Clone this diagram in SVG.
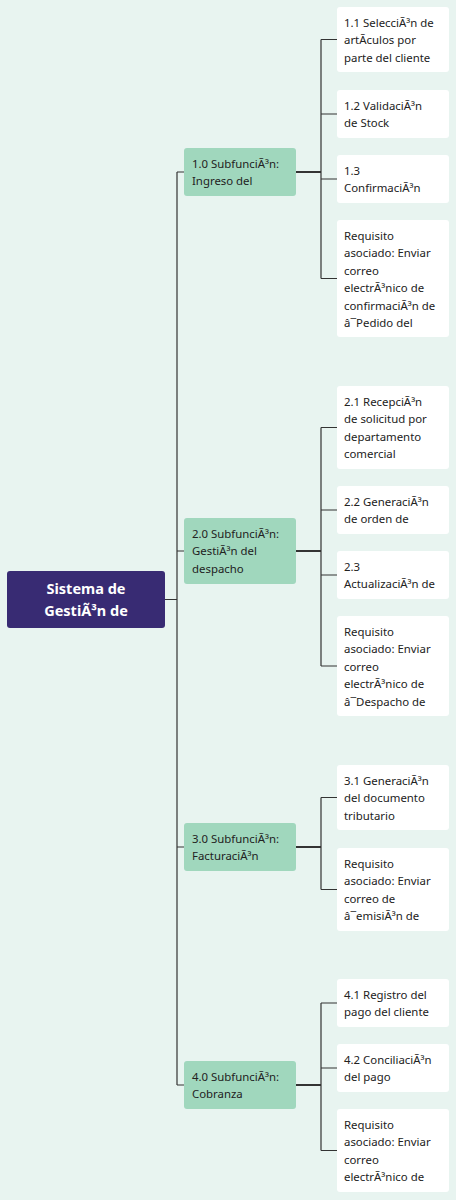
<svg xmlns="http://www.w3.org/2000/svg" width="456" height="1200" viewBox="0 0 456 1200">
<style>
.bg{fill:#e8f4f0}
.root rect{fill:#382b73}
.root text{fill:#ffffff;font-family:"Noto Sans","Open Sans",sans-serif;font-size:14.5px;font-weight:bold;text-anchor:middle}
.sub rect{fill:#a0d7bd}
.leaf rect{fill:#ffffff}
.sub text,.leaf text{fill:#222222;font-family:"Noto Sans","Open Sans",sans-serif;font-size:11.4px}
.conn path{fill:none;stroke:#333333;stroke-width:1.2}
.conn .thick{stroke-width:2}
</style>
<rect class="bg" x="0" y="0" width="456" height="1200"/>
<g class="conn">
<path d="M165,599.5H177M177,172V1085M177,172H184M177,551H184M177,847H184M177,1085H184"/>
<path class="thick" d="M296,172H321M296,551H321M296,847H321M296,1085H321"/>
<path d="M321,39.5V278.5M321,39.5H337M321,114H337M321,179H337M321,278.5H337"/>
<path d="M321,427.5V666M321,427.5H337M321,510H337M321,575H337M321,666H337"/>
<path d="M321,797.5V889.5M321,797.5H337M321,889.5H337"/>
<path d="M321,1003V1150.5M321,1003H337M321,1068H337M321,1150.5H337"/>
</g>
<g id="root" class="root"><rect x="7" y="571" width="158" height="57" rx="3"/><text x="86" y="594">Sistema de</text><text x="86" y="616">GestiÃ³n de</text></g>
<g id="n1" class="sub"><rect x="184" y="148" width="112" height="48" rx="3"/><text x="192" y="167.5">1.0 SubfunciÃ³n:</text><text x="192" y="185">Ingreso del</text></g>
<g id="n2" class="sub"><rect x="184" y="518" width="112" height="66" rx="3"/><text x="192" y="537.5">2.0 SubfunciÃ³n:</text><text x="192" y="555">GestiÃ³n del</text><text x="192" y="572.5">despacho</text></g>
<g id="n3" class="sub"><rect x="184" y="823" width="112" height="48" rx="3"/><text x="192" y="842.5">3.0 SubfunciÃ³n:</text><text x="192" y="860">FacturaciÃ³n</text></g>
<g id="n4" class="sub"><rect x="184" y="1061" width="112" height="48" rx="3"/><text x="192" y="1080.5">4.0 SubfunciÃ³n:</text><text x="192" y="1098">Cobranza</text></g>
<g id="n11" class="leaf"><rect x="337" y="7" width="112" height="65" rx="3"/><text x="344" y="26.5">1.1 SelecciÃ³n de</text><text x="344" y="44">artÃculos por</text><text x="344" y="61.5">parte del cliente</text></g>
<g id="n12" class="leaf"><rect x="337" y="90" width="112" height="48" rx="3"/><text x="344" y="109.5">1.2 ValidaciÃ³n</text><text x="344" y="127">de Stock</text></g>
<g id="n13" class="leaf"><rect x="337" y="155" width="112" height="48" rx="3"/><text x="344" y="174.5">1.3</text><text x="344" y="192">ConfirmaciÃ³n</text></g>
<g id="n1r" class="leaf"><rect x="337" y="220" width="112" height="117" rx="3"/><text x="344" y="239.5">Requisito</text><text x="344" y="257">asociado: Enviar</text><text x="344" y="274.5">correo</text><text x="344" y="292">electrÃ³nico de</text><text x="344" y="309.5">confirmaciÃ³n de</text><text x="344" y="327">&#xE2;&#xAF;Pedido del</text></g>
<g id="n21" class="leaf"><rect x="337" y="386" width="112" height="83" rx="3"/><text x="344" y="405.5">2.1 RecepciÃ³n</text><text x="344" y="423">de solicitud por</text><text x="344" y="440.5">departamento</text><text x="344" y="458">comercial</text></g>
<g id="n22" class="leaf"><rect x="337" y="486" width="112" height="48" rx="3"/><text x="344" y="505.5">2.2 GeneraciÃ³n</text><text x="344" y="523">de orden de</text></g>
<g id="n23" class="leaf"><rect x="337" y="551" width="112" height="48" rx="3"/><text x="344" y="570.5">2.3</text><text x="344" y="588">ActualizaciÃ³n de</text></g>
<g id="n2r" class="leaf"><rect x="337" y="616" width="112" height="100" rx="3"/><text x="344" y="635.5">Requisito</text><text x="344" y="653">asociado: Enviar</text><text x="344" y="670.5">correo</text><text x="344" y="688">electrÃ³nico de</text><text x="344" y="705.5">&#xE2;&#xAF;Despacho de</text></g>
<g id="n31" class="leaf"><rect x="337" y="765" width="112" height="65" rx="3"/><text x="344" y="784.5">3.1 GeneraciÃ³n</text><text x="344" y="802">del documento</text><text x="344" y="819.5">tributario</text></g>
<g id="n3r" class="leaf"><rect x="337" y="848" width="112" height="83" rx="3"/><text x="344" y="867.5">Requisito</text><text x="344" y="885">asociado: Enviar</text><text x="344" y="902.5">correo de</text><text x="344" y="920">&#xE2;&#xAF;emisiÃ³n de</text></g>
<g id="n41" class="leaf"><rect x="337" y="979" width="112" height="48" rx="3"/><text x="344" y="998.5">4.1 Registro del</text><text x="344" y="1016">pago del cliente</text></g>
<g id="n42" class="leaf"><rect x="337" y="1044" width="112" height="48" rx="3"/><text x="344" y="1063.5">4.2 ConciliaciÃ³n</text><text x="344" y="1081">del pago</text></g>
<g id="n4r" class="leaf"><rect x="337" y="1109" width="112" height="83" rx="3"/><text x="344" y="1128.5">Requisito</text><text x="344" y="1146">asociado: Enviar</text><text x="344" y="1163.5">correo</text><text x="344" y="1181">electrÃ³nico de</text></g>
</svg>
